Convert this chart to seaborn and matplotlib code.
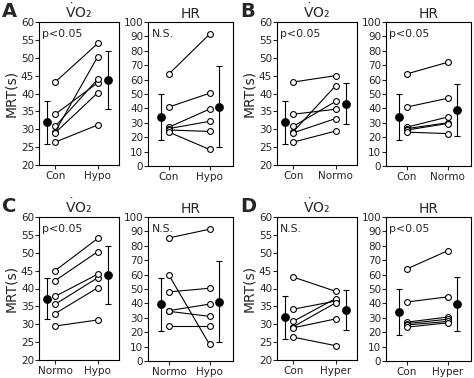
import numpy as np
import pandas as pd
import matplotlib
matplotlib.use("Agg")
import matplotlib.pyplot as plt
import seaborn as sns

sns.set_style("ticks")
plt.rcParams['font.family'] = ['DejaVu Sans']
plt.rcParams['mathtext.fontset'] = 'dejavusans'

# ---------------- data ----------------
subjects = [1, 2, 3, 4, 5, 6]

vo2_con = [43.2, 34.2, 30.8, 29.3, 29.0, 26.4]
vo2_hypo = [54.0, 43.0, 44.0, 50.3, 40.2, 31.2]
vo2_normo = [45.0, 35.6, 37.8, 42.2, 33.0, 29.5]
vo2_hyper = [39.2, 36.5, 37.2, 36.0, 31.5, 24.0]

hr_con = [64.0, 41.0, 27.0, 26.0, 25.0, 23.5]
hr_hypo_a = [91.5, 50.5, 39.5, 31.0, 24.0, 11.5]
hr_normo_b = [72.0, 47.0, 34.0, 30.0, 29.5, 22.5]
hr_normo_c = [85.5, 59.5, 48.0, 35.0, 34.5, 24.0]
hr_hypo_c = [91.5, 11.5, 50.5, 39.5, 31.0, 24.0]
hr_hyper = [76.5, 44.5, 30.5, 29.0, 27.5, 26.5]

# means and SD
vo2_con_ms = (32.0, 6.0)
vo2_hypo_ms = (43.8, 8.0)
vo2_normo_ms = (37.2, 5.8)
vo2_hyper_ms = (34.1, 5.6)
hr_con_ms = (34.0, 16.0)
hr_hypo_ms = (41.3, 27.8)
hr_normo_b_ms = (38.8, 18.0)
hr_normo_c_ms = (39.3, 18.2)
hr_hyper_ms = (39.5, 19.0)

panels = [
    ("A", (0, 0), ["Con", "Hypo"], (vo2_con, vo2_hypo), (hr_con, hr_hypo_a),
     "p<0.05", "N.S.", (vo2_con_ms, vo2_hypo_ms), (hr_con_ms, hr_hypo_ms)),
    ("B", (238, 0), ["Con", "Normo"], (vo2_con, vo2_normo), (hr_con, hr_normo_b),
     "p<0.05", "p<0.05", (vo2_con_ms, vo2_normo_ms), (hr_con_ms, hr_normo_b_ms)),
    ("C", (0, 195), ["Normo", "Hypo"], (vo2_normo, vo2_hypo), (hr_normo_c, hr_hypo_c),
     "p<0.05", "N.S.", (vo2_normo_ms, vo2_hypo_ms), (hr_normo_c_ms, hr_hypo_ms)),
    ("D", (238, 195), ["Con", "Hyper"], (vo2_con, vo2_hyper), (hr_con, hr_hyper),
     "N.S.", "p<0.05", (vo2_con_ms, vo2_hyper_ms), (hr_con_ms, hr_hyper_ms)),
]

W, H = 474, 378
fig = plt.figure(figsize=(W / 100, H / 100), dpi=100)


def px_axes(x0, y0, w, h):
    return fig.add_axes([x0 / W, 1 - (y0 + h) / H, w / W, h / H])


def draw(ax, labels, pair, stat, means, ylim, yticks, xlim, mean_off, ylabel):
    rows = []
    for s, a, b in zip(subjects, pair[0], pair[1]):
        rows.append({"subj": s, "x": 0, "val": a})
        rows.append({"subj": s, "x": 1, "val": b})
    df = pd.DataFrame(rows)
    sns.lineplot(data=df, x="x", y="val", units="subj", estimator=None,
                 color="black", lw=0.8, marker="o", markersize=4.2,
                 markerfacecolor="white", markeredgecolor="black",
                 markeredgewidth=0.8, ax=ax, legend=False)
    mdf = pd.DataFrame({"x": [mean_off[0], 1 + mean_off[1]],
                        "m": [means[0][0], means[1][0]],
                        "sd": [means[0][1], means[1][1]]})
    ax.errorbar(mdf["x"], mdf["m"], yerr=mdf["sd"], fmt="none",
                ecolor="black", elinewidth=0.8, capsize=2.2, capthick=0.8)
    sns.scatterplot(data=mdf, x="x", y="m", color="black", s=40,
                    edgecolor="black", linewidth=0, ax=ax, zorder=5)
    ax.set_xlim(*xlim)
    ax.set_ylim(*ylim)
    ax.set_yticks(yticks)
    ax.set_xticks([0, 1])
    ax.set_xticklabels(labels)
    ax.tick_params(axis="both", labelsize=7.5, length=3, width=0.8, pad=1.5,
                   direction="out")
    ax.tick_params(axis="y", pad=0.5)
    for sp in ax.spines.values():
        sp.set_linewidth(0.8)
        sp.set_color("black")
    ax.set_xlabel("")
    ax.set_ylabel(ylabel, fontsize=10, labelpad=2)
    ax.text(0.04, 0.915, stat, transform=ax.transAxes, fontsize=7.8,
            ha="left", va="center")


for letter, (ox, oy), labels, vpair, hpair, vst, hst, vms, hms in panels:
    ax1 = px_axes(ox + 39, oy + 22, 80, 143)
    draw(ax1, labels, vpair, vst, vms, (20, 60), np.arange(20, 61, 5),
         (-0.38, 1.5), (-0.2, 0.24), "MRT(s)")
    ax1.set_title(r"$\dot{\mathrm{V}}$O" + "\u2082", fontsize=10, pad=3)
    ax2 = px_axes(ox + 148, oy + 22, 85, 144)
    draw(ax2, labels, hpair, hst, hms, (0, 100), np.arange(0, 101, 10),
         (-0.52, 1.58), (-0.2, 0.24), "")
    ax2.set_title("HR", fontsize=10, pad=3)
    fig.text((ox + 2) / W, 1 - (oy + 2) / H, letter, fontsize=14,
             fontweight="bold", ha="left", va="top")

fig.savefig("out.png", dpi=100)
